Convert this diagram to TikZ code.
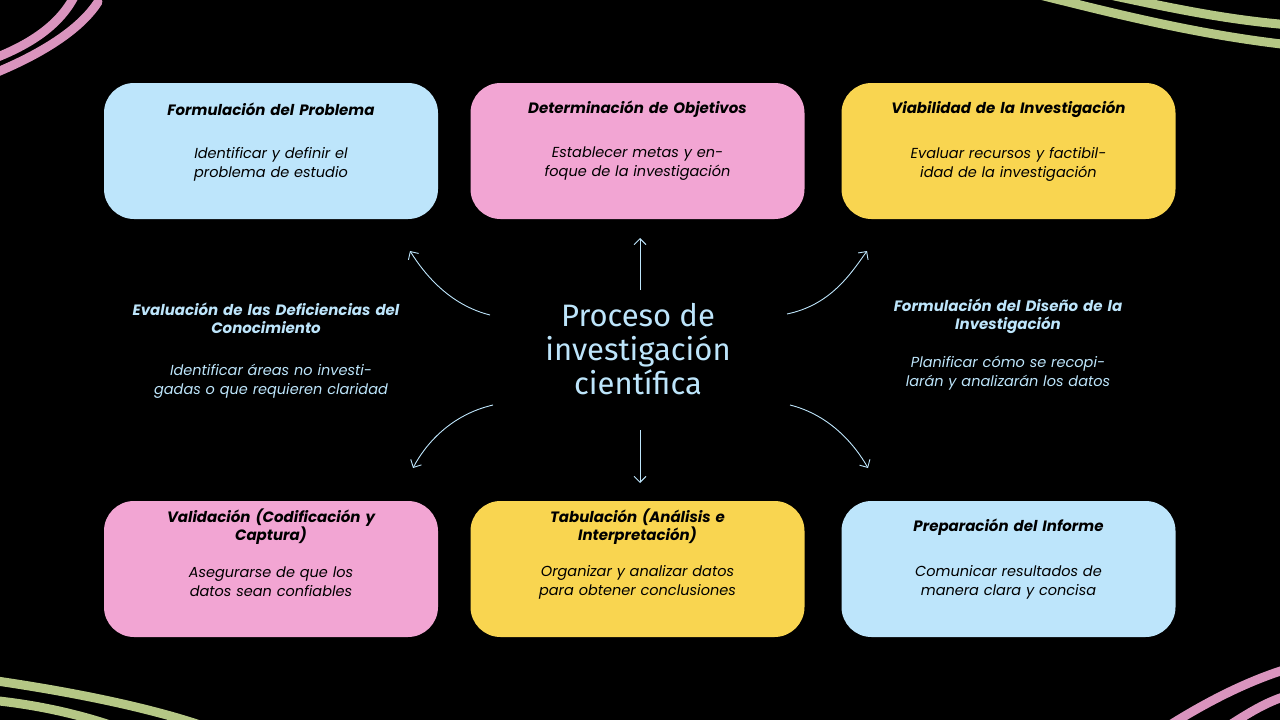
\documentclass[tikz,border=0pt]{standalone}
\usepackage{fontspec}
\setmainfont{Poppins}
\newfontfamily\fira{Fira Sans}
\usetikzlibrary{arrows.meta}
\definecolor{lb}{HTML}{BDE5FB}
\definecolor{pk}{HTML}{F2A5D3}
\definecolor{yl}{HTML}{F9D550}
\definecolor{gr}{HTML}{C9DD94}
\definecolor{ab}{HTML}{BDE5FB}
\tikzset{
 card/.style={rounded corners=30pt,minimum width=334pt,minimum height=136pt,draw=none},
 ttl/.style={font=\fontsize{15}{18}\selectfont\bfseries\itshape,align=center,text width=280pt},
 bdy/.style={font=\fontsize{14.5}{19}\selectfont\itshape,align=center,text width=290pt},
 arr/.style={draw=ab,line width=0.9pt,-{Straight Barb[length=6pt,width=12pt]}},
 deco/.style={line width=9pt,line cap=round,opacity=0.9}
}
\begin{document}
\begin{tikzpicture}[x=1pt,y=-1pt]
\fill[black] (0,0) rectangle (1280,720);
\useasboundingbox (0,0) rectangle (1280,720);
% decorations
\draw[deco,pk] (-10,75) .. controls (40,55) and (80,30) .. (98,2);
\draw[deco,pk] (-10,60) .. controls (30,45) and (60,25) .. (75,-5);
\draw[deco,gr] (1040,-5) .. controls (1120,15) and (1200,35) .. (1290,45);
\draw[deco,gr] (1110,-5) .. controls (1180,10) and (1230,20) .. (1290,25);
\draw[deco,gr] (-10,680) .. controls (60,690) and (140,705) .. (200,725);
\draw[deco,gr] (-10,700) .. controls (40,705) and (80,715) .. (110,725);
\draw[deco,pk] (1170,725) .. controls (1210,700) and (1250,680) .. (1290,668);
\draw[deco,pk] (1230,725) .. controls (1250,712) and (1270,700) .. (1290,695);
% cards
\node[card,fill=lb] (c1) at (271,151) {};
\node[card,fill=pk] (c2) at (637.5,151) {};
\node[card,fill=yl] (c3) at (1008.5,151) {};
\node[card,fill=pk] (c4) at (271,569) {};
\node[card,fill=yl] (c5) at (637.5,569) {};
\node[card,fill=lb] (c6) at (1008.5,569) {};
\node[ttl] (t1) at (271,109) {Formulación del Problema};
\node[bdy] (b1) at (271,164) {Identificar y definir el problema de estudio};
\node[ttl] (t2) at (637.5,109) {Determinación de Objetivos};
\node[bdy] (b2) at (637.5,164) {Establecer metas y enfoque de la investigación};
\node[ttl] (t3) at (1008.5,109) {Viabilidad de la Investigación};
\node[bdy] (b3) at (1008.5,164) {Evaluar recursos y factibilidad de la investigación};
\node[ttl] (t4) at (271,527) {Validación (Codificación y\\Captura)};
\node[bdy] (b4) at (271,582) {Asegurarse de que los datos sean confiables};
\node[ttl] (t5) at (637.5,527) {Tabulación (Análisis e\\Interpretación)};
\node[bdy] (b5) at (637.5,582) {Organizar y analizar datos para obtener conclusiones};
\node[ttl] (t6) at (1008.5,527) {Preparación del Informe};
\node[bdy] (b6) at (1008.5,582) {Comunicar resultados de manera clara y concisa};
% side texts
\node[ttl,text=lb] (t7) at (266,318) {Evaluación de las Deficiencias del\\Conocimiento};
\node[bdy,text=lb] (b7) at (271,381) {Identificar áreas no investigadas o que requieren claridad};
\node[ttl,text=lb] (t8) at (1008,316) {Formulación del Diseño de la\\Investigación};
\node[bdy,text=lb] (b8) at (1008,373) {Planificar cómo se recopilarán y analizarán los datos};
% center
\node[font=\fira\fontsize{31}{34}\selectfont,text=lb,align=center] (ctr) at (638,349) {Proceso de\\investigación\\científica};
% arrows
\coordinate (a1) at (490,315); \coordinate (e1) at (410,251);
\coordinate (a2) at (640,290); \coordinate (e2) at (640,238);
\coordinate (a3) at (787,314); \coordinate (e3) at (867,251);
\coordinate (a4) at (493,405); \coordinate (e4) at (413,468);
\coordinate (a5) at (640,430); \coordinate (e5) at (640,483);
\coordinate (a6) at (790,405); \coordinate (e6) at (868,468);
\draw[arr] (a1) .. controls (450,305) and (425,275) .. (e1);
\draw[arr] (a2) -- (e2);
\draw[arr] (a3) .. controls (830,305) and (850,275) .. (e3);
\draw[arr] (a4) .. controls (450,415) and (425,445) .. (e4);
\draw[arr] (a5) -- (e5);
\draw[arr] (a6) .. controls (830,415) and (855,445) .. (e6);
\end{tikzpicture}
\end{document}
